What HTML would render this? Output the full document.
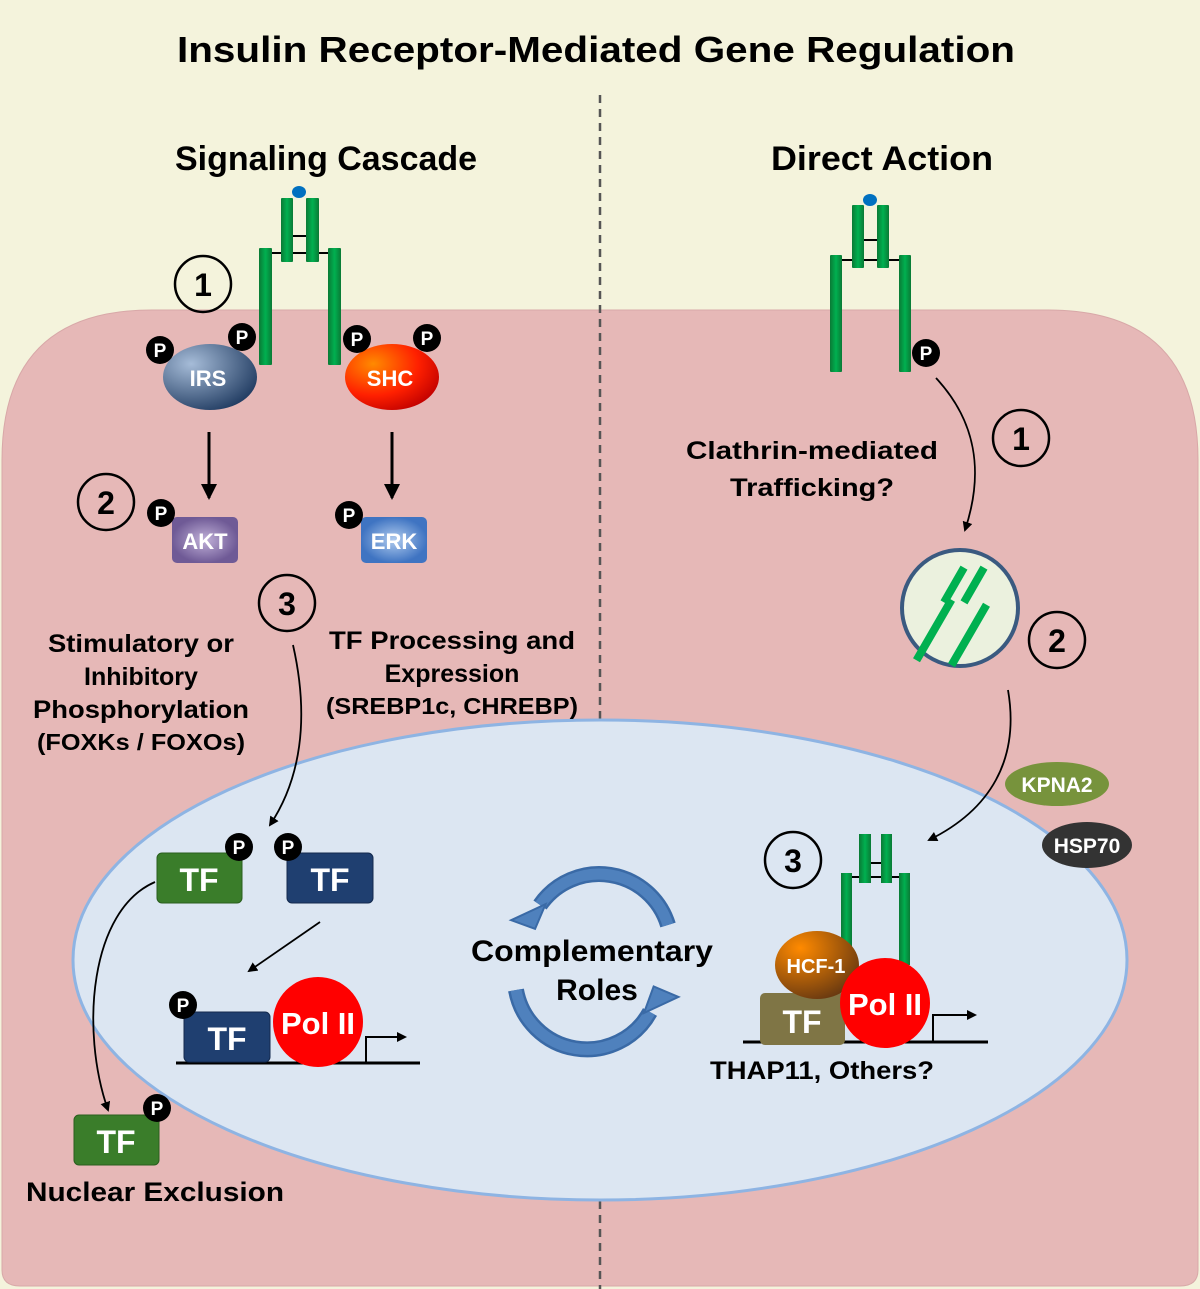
<!DOCTYPE html>
<html><head><meta charset="utf-8"><style>
html,body{margin:0;padding:0;background:#f4f3dc}
svg{display:block}
text{font-family:"Liberation Sans",sans-serif;font-weight:bold}
</style></head><body>
<svg width="1200" height="1289" viewBox="0 0 1200 1289" xmlns="http://www.w3.org/2000/svg">
<defs>
<linearGradient id="g" x1="0" x2="1"><stop offset="0" stop-color="#0a7a35"/><stop offset="0.5" stop-color="#00b050"/><stop offset="1" stop-color="#0a7a35"/></linearGradient>
<radialGradient id="irs" cx="0.3" cy="0.3" r="0.8"><stop offset="0" stop-color="#a6bcd8"/><stop offset="1" stop-color="#1f3a60"/></radialGradient>
<radialGradient id="shc" cx="0.3" cy="0.3" r="0.8"><stop offset="0" stop-color="#ff8a00"/><stop offset="0.6" stop-color="#ff2000"/><stop offset="1" stop-color="#c00000"/></radialGradient>
<radialGradient id="akt"><stop offset="0" stop-color="#c0b0d8"/><stop offset="1" stop-color="#6f5a96"/></radialGradient>
<radialGradient id="erk"><stop offset="0" stop-color="#b0cbee"/><stop offset="1" stop-color="#3f74c2"/></radialGradient>
<radialGradient id="hcf" cx="0.3" cy="0.25" r="0.8"><stop offset="0" stop-color="#ff8a00"/><stop offset="1" stop-color="#6b3a10"/></radialGradient>
<marker id="ah" markerWidth="10" markerHeight="10" refX="8" refY="5" orient="auto" markerUnits="userSpaceOnUse"><path d="M0,0 L10,5 L0,10 z" fill="#000"/></marker>
<marker id="ah2" markerWidth="16" markerHeight="16" refX="14" refY="8" orient="auto" markerUnits="userSpaceOnUse"><path d="M0,0 L16,8 L0,16 z" fill="#000"/></marker>
</defs>
<rect width="1200" height="1289" fill="#f4f3dc"/>
<path d="M2,1270 L2,460 Q2,310 152,310 L1048,310 Q1198,310 1198,460 L1198,1270 Q1198,1286 1180,1286 L20,1286 Q2,1286 2,1270 Z" fill="#e6b8b7" stroke="#d8a8a8" stroke-width="1"/>
<line x1="600" y1="95" x2="600" y2="1289" stroke="#555" stroke-width="2.5" stroke-dasharray="8,6"/>
<ellipse cx="600" cy="960" rx="527" ry="240" fill="#dce6f2" stroke="#8eb4e3" stroke-width="3"/>

<text x="596" y="62" font-size="36" text-anchor="middle" textLength="838" lengthAdjust="spacingAndGlyphs">Insulin Receptor-Mediated Gene Regulation</text>
<text x="326" y="170" font-size="34" text-anchor="middle" textLength="302" lengthAdjust="spacingAndGlyphs">Signaling Cascade</text>
<text x="882" y="170" font-size="34" text-anchor="middle" textLength="222" lengthAdjust="spacingAndGlyphs">Direct Action</text>

<!-- left receptor -->
<line x1="287" y1="236" x2="313" y2="236" stroke="#000" stroke-width="2"/>
<line x1="265" y1="253" x2="335" y2="253" stroke="#000" stroke-width="2"/>
<rect x="259" y="248" width="13" height="117" fill="url(#g)" rx="1"/>
<rect x="328" y="248" width="13" height="117" fill="url(#g)" rx="1"/>
<rect x="281" y="198" width="12" height="64" fill="url(#g)" rx="1"/>
<rect x="306" y="198" width="13" height="64" fill="url(#g)" rx="1"/>
<ellipse cx="299" cy="192" rx="7" ry="6" fill="#0070c0"/>

<g fill="none" stroke="#000" stroke-width="2.5">
<circle cx="203" cy="284" r="28"/><circle cx="106" cy="502" r="28"/><circle cx="287" cy="603" r="28"/>
<circle cx="1021" cy="438" r="28"/><circle cx="1057" cy="640" r="28"/><circle cx="793" cy="860" r="28"/>
</g>
<g font-size="32" text-anchor="middle">
<text x="203" y="296">1</text><text x="106" y="514">2</text><text x="287" y="615">3</text>
<text x="1021" y="450">1</text><text x="1057" y="652">2</text><text x="793" y="872">3</text>
</g>

<ellipse cx="210" cy="377" rx="47" ry="33" fill="url(#irs)"/>
<text x="208" y="386" font-size="22" fill="#fff" text-anchor="middle">IRS</text>
<ellipse cx="392" cy="377" rx="47" ry="33" fill="url(#shc)"/>
<text x="390" y="386" font-size="22" fill="#fff" text-anchor="middle">SHC</text>

<line x1="209" y1="432" x2="209" y2="498" stroke="#000" stroke-width="3" marker-end="url(#ah2)"/>
<line x1="392" y1="432" x2="392" y2="498" stroke="#000" stroke-width="3" marker-end="url(#ah2)"/>

<rect x="172" y="517" width="66" height="46" rx="5" fill="url(#akt)"/>
<text x="205" y="549" font-size="22" fill="#fff" text-anchor="middle">AKT</text>
<rect x="361" y="517" width="66" height="46" rx="5" fill="url(#erk)"/>
<text x="394" y="549" font-size="22" fill="#fff" text-anchor="middle">ERK</text>

<g font-size="25" text-anchor="middle">
<text x="141" y="652" textLength="186" lengthAdjust="spacingAndGlyphs">Stimulatory or</text>
<text x="141" y="685">Inhibitory</text>
<text x="141" y="718" textLength="216" lengthAdjust="spacingAndGlyphs">Phosphorylation</text>
<text x="141" y="750" font-size="23" textLength="208" lengthAdjust="spacingAndGlyphs">(FOXKs / FOXOs)</text>
<text x="452" y="649" textLength="246" lengthAdjust="spacingAndGlyphs">TF Processing and</text>
<text x="452" y="682">Expression</text>
<text x="452" y="714" font-size="23" textLength="252" lengthAdjust="spacingAndGlyphs">(SREBP1c, CHREBP)</text>
<text x="812" y="459" textLength="252" lengthAdjust="spacingAndGlyphs">Clathrin-mediated</text>
<text x="812" y="496" textLength="164" lengthAdjust="spacingAndGlyphs">Trafficking?</text>
<text x="155" y="1201" font-size="27" textLength="258" lengthAdjust="spacingAndGlyphs">Nuclear Exclusion</text>
<text x="822" y="1079" textLength="224" lengthAdjust="spacingAndGlyphs">THAP11, Others?</text>
</g>

<path d="M293,645 C310,720 300,780 270,825" fill="none" stroke="#000" stroke-width="1.8" marker-end="url(#ah)"/>
<line x1="320" y1="922" x2="249" y2="971" stroke="#000" stroke-width="1.8" marker-end="url(#ah)"/>
<path d="M155,882 C90,910 80,1030 108,1110" fill="none" stroke="#000" stroke-width="1.8" marker-end="url(#ah)"/>

<rect x="157" y="853" width="85" height="50" rx="5" fill="#3a7d2a" stroke="#2a5e1e"/>
<text x="199" y="891" font-size="32" fill="#fff" text-anchor="middle">TF</text>
<rect x="287" y="853" width="86" height="50" rx="5" fill="#1f3f70" stroke="#142a4e"/>
<text x="330" y="891" font-size="32" fill="#fff" text-anchor="middle">TF</text>
<rect x="74" y="1115" width="85" height="50" rx="5" fill="#3a7d2a" stroke="#2a5e1e"/>
<text x="116" y="1153" font-size="32" fill="#fff" text-anchor="middle">TF</text>

<line x1="176" y1="1063" x2="420" y2="1063" stroke="#000" stroke-width="3"/>
<rect x="184" y="1012" width="86" height="50" rx="5" fill="#1f3f70" stroke="#142a4e"/>
<text x="227" y="1050" font-size="32" fill="#fff" text-anchor="middle">TF</text>
<circle cx="318" cy="1022" r="45" fill="#ff0000"/>
<text x="318" y="1034" font-size="31" fill="#fff" text-anchor="middle">Pol II</text>
<path d="M366,1063 L366,1037 L405,1037" fill="none" stroke="#000" stroke-width="2" marker-end="url(#ah)"/>

<!-- complementary arrows -->
<path d="M668,925 A72,72 0 0 0 540,905" fill="none" stroke="#3a6aa6" stroke-width="16"/>
<path d="M668,925 A72,72 0 0 0 540,905" fill="none" stroke="#4f81bd" stroke-width="11"/>
<path d="M512,912 L550,912 L530,930 Z" fill="#4f81bd" stroke="#3a6aa6" stroke-width="2" transform="rotate(-25 530 918)"/>
<path d="M516,990 A72,72 0 0 0 650,1012" fill="none" stroke="#3a6aa6" stroke-width="16"/>
<path d="M516,990 A72,72 0 0 0 650,1012" fill="none" stroke="#4f81bd" stroke-width="11"/>
<path d="M640,1005 L678,1005 L660,985 Z" fill="#4f81bd" stroke="#3a6aa6" stroke-width="2" transform="rotate(-25 660 1000)"/>
<text x="592" y="961" font-size="30" text-anchor="middle" textLength="242" lengthAdjust="spacingAndGlyphs">Complementary</text>
<text x="597" y="1000" font-size="30" text-anchor="middle">Roles</text>

<!-- right receptor -->
<line x1="858" y1="240" x2="883" y2="240" stroke="#000" stroke-width="2"/>
<line x1="836" y1="260" x2="905" y2="260" stroke="#000" stroke-width="2"/>
<rect x="830" y="255" width="12" height="117" fill="url(#g)" rx="1"/>
<rect x="899" y="255" width="12" height="117" fill="url(#g)" rx="1"/>
<rect x="852" y="205" width="12" height="63" fill="url(#g)" rx="1"/>
<rect x="877" y="205" width="12" height="63" fill="url(#g)" rx="1"/>
<ellipse cx="870" cy="200" rx="7" ry="6" fill="#0070c0"/>

<path d="M936,378 C975,420 985,470 965,530" fill="none" stroke="#000" stroke-width="1.8" marker-end="url(#ah)"/>
<circle cx="960" cy="608" r="58" fill="#ebf1de" stroke="#3a5a80" stroke-width="4"/>
<g fill="#00b050">
<rect x="950" y="565" width="8" height="40" transform="rotate(30 954 585)"/>
<rect x="970" y="565" width="8" height="40" transform="rotate(30 974 585)"/>
<rect x="930" y="595" width="8" height="70" transform="rotate(30 934 630)"/>
<rect x="965" y="600" width="8" height="70" transform="rotate(30 969 635)"/>
</g>
<path d="M1008,690 C1020,760 990,810 929,840" fill="none" stroke="#000" stroke-width="1.8" marker-end="url(#ah)"/>

<ellipse cx="1057" cy="784" rx="52" ry="22" fill="#77933c"/>
<text x="1057" y="792" font-size="21" fill="#fff" text-anchor="middle">KPNA2</text>
<ellipse cx="1087" cy="845" rx="45" ry="23" fill="#333"/>
<text x="1087" y="853" font-size="21" fill="#fff" text-anchor="middle">HSP70</text>

<line x1="865" y1="863" x2="887" y2="863" stroke="#000" stroke-width="2"/>
<line x1="846" y1="877" x2="904" y2="877" stroke="#000" stroke-width="2"/>
<rect x="841" y="873" width="11" height="92" fill="url(#g)"/>
<rect x="899" y="873" width="11" height="92" fill="url(#g)"/>
<rect x="859" y="834" width="12" height="49" fill="url(#g)"/>
<rect x="881" y="834" width="11" height="49" fill="url(#g)"/>

<line x1="743" y1="1042" x2="988" y2="1042" stroke="#000" stroke-width="3"/>
<rect x="760" y="993" width="85" height="52" rx="5" fill="#7f7545"/>
<text x="802" y="1033" font-size="32" fill="#fff" text-anchor="middle">TF</text>
<ellipse cx="817" cy="965" rx="42" ry="34" fill="url(#hcf)"/>
<text x="816" y="973" font-size="20" fill="#fff" text-anchor="middle">HCF-1</text>
<circle cx="885" cy="1003" r="45" fill="#ff0000"/>
<text x="885" y="1015" font-size="31" fill="#fff" text-anchor="middle">Pol II</text>
<path d="M933,1042 L933,1015 L975,1015" fill="none" stroke="#000" stroke-width="2" marker-end="url(#ah)"/>

<!-- P circles on top -->
<g fill="#000">
<circle cx="160" cy="350" r="14"/><circle cx="242" cy="337" r="14"/><circle cx="357" cy="339" r="14"/><circle cx="427" cy="338" r="14"/>
<circle cx="161" cy="513" r="14"/><circle cx="349" cy="515" r="14"/><circle cx="926" cy="353" r="14"/>
<circle cx="239" cy="847" r="14"/><circle cx="288" cy="847" r="14"/><circle cx="183" cy="1005" r="14"/><circle cx="157" cy="1108" r="14"/>
</g>
<g fill="#fff" font-size="19" text-anchor="middle">
<text x="160" y="357">P</text><text x="242" y="344">P</text><text x="357" y="346">P</text><text x="427" y="345">P</text>
<text x="161" y="520">P</text><text x="349" y="522">P</text><text x="926" y="360">P</text>
<text x="239" y="854">P</text><text x="288" y="854">P</text><text x="183" y="1012">P</text><text x="157" y="1115">P</text>
</g>
</svg>
</body></html>
